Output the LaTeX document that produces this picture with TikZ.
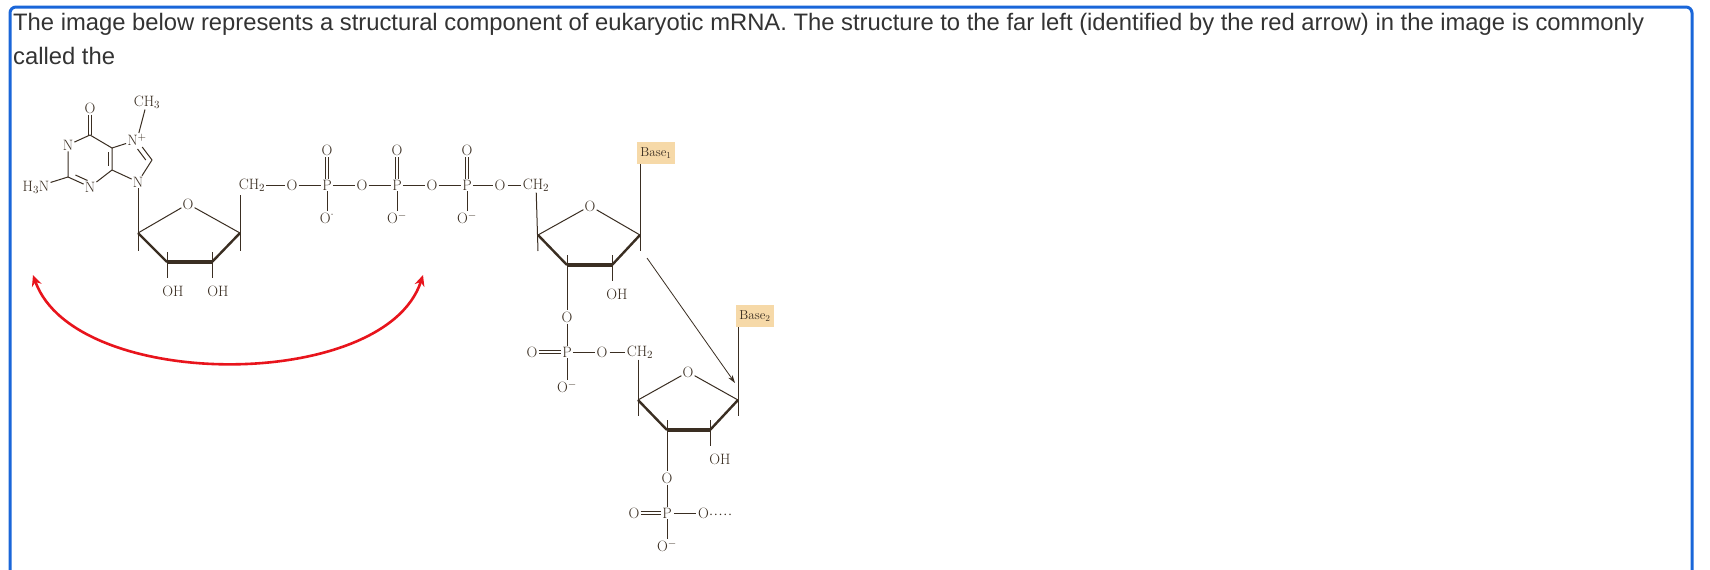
\documentclass[tikz,border=0pt]{standalone}
\usepackage{fontspec}
\newfontfamily\uisans{Liberation Sans}
\usetikzlibrary{arrows.meta,calc}
\definecolor{chem}{HTML}{3A2E22}
\definecolor{frameblue}{HTML}{1A66D9}
\definecolor{basebox}{HTML}{F6D9A8}
\definecolor{arrred}{HTML}{E8141C}
\begin{document}
\begin{tikzpicture}[x=1pt,y=-1pt,
  atom/.style={font=\fontsize{15}{15}\selectfont, inner sep=1pt, text=chem},
  bond/.style={draw=chem, line width=1pt},
  thick bond/.style={draw=chem, line width=2.4pt},
  heavy bond/.style={draw=chem, line width=4.5pt},
  pbond/.style={draw=chem, line width=1pt, shorten <=1pt, shorten >=1pt},
  dbl/.style={draw=chem, double=white, double distance=1.6pt, line width=0.8pt},
  qtext/.style={font=\uisans\fontsize{23.8}{26}\selectfont, text=black!80, anchor=base west, inner sep=0pt},
  base/.style={fill=basebox, font=\fontsize{13}{13}\selectfont, text=chem, inner sep=3pt, minimum height=22pt}]
\useasboundingbox (0,0) rectangle (1710,570);
\fill[white] (0,0) rectangle (1710,570);
% frame
\draw[frameblue, line width=3pt, rounded corners=6pt] (10,580) -- (10,7) -- (1692,7) -- (1692,580);
\node[qtext] (q1) at (13,30) {The image below represents a structural component of eukaryotic mRNA. The structure to the far left (identified by the red arrow) in the image is commonly};
\node[qtext] (q2) at (13,64) {called the};

% ---------- guanine ----------
\coordinate (C6) at (90,135); \coordinate (C5) at (112,148); \coordinate (C4) at (112,170);
\coordinate (C2) at (68,177); \coordinate (C8) at (152,160);
\node[atom] (O6) at (90,108) {O};
\node[atom] (CH3) at (147,102) {CH$_3$};
\node[atom] (N7) at (137,140) {N$^{+}$};
\node[atom] (N1) at (68,145) {N};
\node[atom] (N9) at (138,182) {N};
\node[atom] (N3) at (90,187) {N};
\node[atom] (NH2) at (36,187) {H$_3$N};
\draw[dbl] (O6) -- (C6);
\draw[bond] (C6) -- (N1) (N1) -- (C2) (C2) -- (N3) (N3) -- (C4) (C4) -- (C5) (C5) -- (C6)
  (C5) -- (N7) (N7) -- (C8) (C8) -- (N9) (N9) -- (C4) (N7) -- (CH3) (C2) -- (NH2);
\draw[bond] ($(C2)!0.2!(N3)+(3,-4)$) -- ($(C2)!0.75!(N3)+(3,-4)$);
\draw[bond] ($(C4)!0.2!(C5)+(-4,0)$) -- ($(C4)!0.8!(C5)+(-4,0)$);
\draw[bond] ($(N7)!0.3!(C8)+(-4,3)$) -- ($(N7)!0.85!(C8)+(-4,3)$);

% ---------- ribose 0 (cap) ----------
\coordinate (R0a) at (138,233); \node[atom] (R0O) at (188,204) {O};
\coordinate (R0d) at (240,233); \coordinate (R0c) at (212,262); \coordinate (R0b) at (167,262);
\draw[bond] (R0a) -- (R0O) -- (R0d);
\draw[thick bond] (R0a) -- (R0b); \draw[heavy bond] (R0b) -- (R0c); \draw[thick bond] (R0c) -- (R0d);
\draw[bond] (N9) -- ($(R0a)+(0,18)$);
\draw[bond] ($(R0b)+(0,-10)$) -- ($(R0b)+(0,16)$) ($(R0c)+(0,-10)$) -- ($(R0c)+(0,16)$);
\node[atom] (OH0a) at (173,291) {OH};
\node[atom] (OH0b) at (218,291) {OH};

% ---------- triphosphate ----------
\node[atom] (CH2a) at (252,185) {CH$_2$};
\draw[bond] ($(R0d)+(0,-38)$) -- ($(R0d)+(0,18)$);
\node[atom] (Oa1) at (292,185) {O};
\node[atom] (Pa) at (327,185) {P};
\node[atom] (Oa2) at (362,185) {O};
\node[atom] (Pb) at (397,185) {P};
\node[atom] (Oa3) at (432,185) {O};
\node[atom] (Pc) at (467,185) {P};
\node[atom] (Oa4) at (500,185) {O};
\node[atom] (CH2b) at (536,185) {CH$_2$};
\node[atom] (PaU) at (327,150) {O};
\node[atom] (PbU) at (397,150) {O};
\node[atom] (PcU) at (467,150) {O};
\node[atom] (PaD) at (327,218) {O$^{\cdot}$};
\node[atom] (PbD) at (397,218) {O$^{-}$};
\node[atom] (PcD) at (467,218) {O$^{-}$};
\draw[pbond] (CH2a) -- (Oa1) (Oa1) -- (Pa) (Pa) -- (Oa2) (Oa2) -- (Pb) (Pb) -- (Oa3) (Oa3) -- (Pc) (Pc) -- (Oa4) (Oa4) -- (CH2b);
\draw[dbl] (Pa) -- (PaU); \draw[dbl] (Pb) -- (PbU); \draw[dbl] (Pc) -- (PcU);
\draw[bond] (Pa) -- (PaD) (Pb) -- (PbD) (Pc) -- (PcD);

% ---------- nucleotide 1 ----------
\coordinate (R1d) at (538,235); \node[atom] (R1O) at (590,206) {O};
\coordinate (R1a) at (640,235); \coordinate (R1c) at (567,265); \coordinate (R1b) at (612,265);
\draw[bond] (R1d) -- (R1O) -- (R1a);
\draw[thick bond] (R1d) -- (R1c); \draw[heavy bond] (R1c) -- (R1b); \draw[thick bond] (R1b) -- (R1a);
\draw[bond] (CH2b) -- ($(R1d)+(0,16)$);
\node[base] (B1) at (656,153) {Base$_1$};
\draw[bond] (B1.south -| R1a) -- ($(R1a)+(0,16)$);
\draw[bond] ($(R1b)+(0,-10)$) -- ($(R1b)+(0,16)$);
\node[atom] (OH1) at (617,294) {OH};
\node[atom] (O3a) at (567,317) {O};
\draw[bond] ($(R1c)+(0,-10)$) -- (O3a);
\node[atom] (P1) at (567,352) {P};
\node[atom] (P1L) at (532,352) {O};
\node[atom] (O5b) at (602,352) {O};
\node[atom] (CH2c) at (640,352) {CH$_2$};
\node[atom] (P1D) at (567,387) {O$^{-}$};
\draw[bond] (O3a) -- (P1) (P1) -- (P1D);
\draw[dbl] (P1L) -- (P1);
\draw[pbond] (P1) -- (O5b) (O5b) -- (CH2c);

% ---------- nucleotide 2 ----------
\coordinate (R2d) at (638,400); \node[atom] (R2O) at (688,372) {O};
\coordinate (R2a) at (738,400); \coordinate (R2c) at (667,430); \coordinate (R2b) at (710,430);
\draw[bond] (R2d) -- (R2O) -- (R2a);
\draw[thick bond] (R2d) -- (R2c); \draw[heavy bond] (R2c) -- (R2b); \draw[thick bond] (R2b) -- (R2a);
\draw[bond] (CH2c.south -| R2d) -- ($(R2d)+(0,16)$);
\node[base] (B2) at (755,316) {Base$_2$};
\draw[bond] (B2.south -| R2a) -- ($(R2a)+(0,16)$);
\draw[bond] ($(R2b)+(0,-10)$) -- ($(R2b)+(0,16)$);
\node[atom] (OH2) at (720,459) {OH};
\node[atom] (O3b) at (667,478) {O};
\draw[bond] ($(R2c)+(0,-10)$) -- (O3b);
\node[atom] (P2) at (667,513) {P};
\node[atom] (P2L) at (634,513) {O};
\node[atom,anchor=west] (P2R) at (697,513) {O$\cdot\!\cdot\!\cdot\!\cdot\!\cdot$};
\node[atom] (P2D) at (667,546) {O$^{-}$};
\draw[bond] (O3b) -- (P2) (P2) -- (P2D);
\draw[dbl] (P2L) -- (P2);
\draw[pbond] (P2) -- (P2R);

% arrow between nucleotides
\coordinate (A1s) at (647,258); \coordinate (A1e) at (735,383);
\draw[chem, line width=0.8pt, -{Stealth[length=8pt,width=5pt]}] (A1s) -- (A1e);

% red arrow
\coordinate (RL) at (33,275); \coordinate (RR) at (423,275);
\draw[arrred, line width=2.6pt, {Stealth[length=11pt,width=10pt]}-{Stealth[length=11pt,width=10pt]}]
  (RL) .. controls (75,392) and (385,392) .. (RR);
\end{tikzpicture}
\end{document}
